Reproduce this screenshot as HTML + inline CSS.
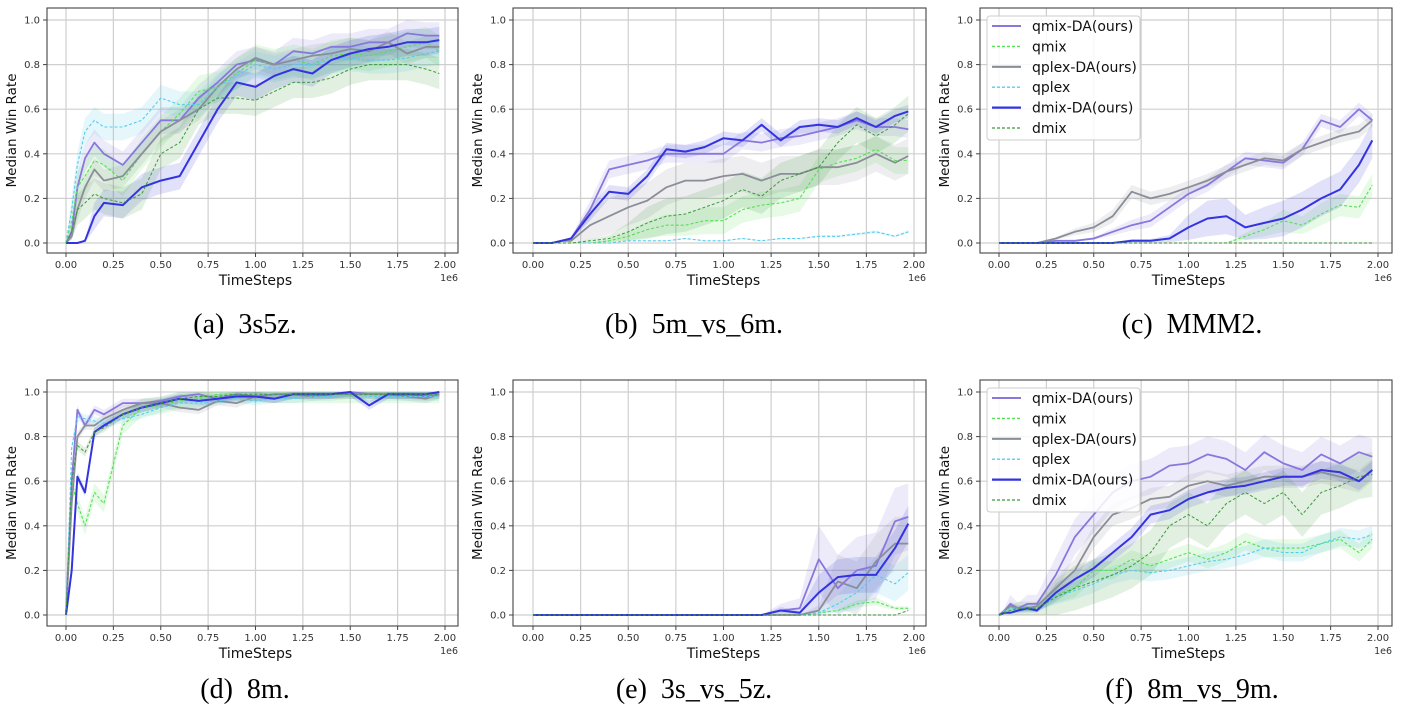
<!DOCTYPE html>
<html><head><meta charset="utf-8"><style>
html,body{margin:0;padding:0;background:#fff;}
svg text{font-family:"DejaVu Sans","Liberation Sans",sans-serif;}
</style></head><body>
<svg id="fig" width="1402" height="709" xmlns="http://www.w3.org/2000/svg"></svg>
<script>
const xSteps = [0,0.03,0.06,0.1,0.15,0.2,0.3,0.4,0.5,0.6,0.7,0.8,0.9,1.0,1.1,1.2,1.3,1.4,1.5,1.6,1.7,1.8,1.9,1.97];
const seriesNames = ["qmix-DA(ours)","qmix","qplex-DA(ours)","qplex","dmix-DA(ours)","dmix"];
const xTickLabels = ["0.00","0.25","0.50","0.75","1.00","1.25","1.50","1.75","2.00"];
const yTickLabels = ["0.0","0.2","0.4","0.6","0.8","1.0"];
const captions = ["(a)\u00a0\u00a03s5z.","(b)\u00a0\u00a05m_vs_6m.","(c)\u00a0\u00a0MMM2.","(d)\u00a0\u00a08m.","(e)\u00a0\u00a03s_vs_5z.","(f)\u00a0\u00a08m_vs_9m."];
const z16 = [0,0,0,0,0,0,0,0,0,0,0,0,0,0,0,0];
const zeros = [0,0,0,0,0,0,0,0,0,0,0,0,0,0,0,0,0,0,0,0,0,0,0,0];
// (a) 3s5z
const a_qmixDA = [0,0.05,0.25,0.38,0.45,0.40,0.35,0.45,0.55,0.55,0.65,0.72,0.80,0.82,0.80,0.86,0.85,0.88,0.88,0.90,0.90,0.94,0.93,0.93];
const a_qmix = [0,0.1,0.25,0.30,0.37,0.35,0.28,0.40,0.50,0.58,0.68,0.70,0.76,0.82,0.80,0.82,0.80,0.84,0.85,0.84,0.86,0.88,0.90,0.86];
const a_qplexDA = [0,0.03,0.15,0.25,0.33,0.28,0.30,0.40,0.50,0.55,0.60,0.70,0.78,0.83,0.80,0.82,0.84,0.85,0.87,0.86,0.90,0.85,0.88,0.88];
const a_qplex = [0,0.15,0.35,0.50,0.55,0.52,0.52,0.55,0.65,0.62,0.62,0.70,0.75,0.80,0.78,0.80,0.80,0.82,0.83,0.82,0.82,0.83,0.85,0.86];
const a_dmixDA = [0,0,0,0.01,0.12,0.18,0.17,0.25,0.28,0.30,0.45,0.60,0.72,0.70,0.75,0.78,0.76,0.82,0.85,0.87,0.88,0.90,0.90,0.91];
const a_dmix = [0,0.05,0.15,0.18,0.22,0.20,0.18,0.22,0.40,0.45,0.60,0.65,0.65,0.64,0.68,0.72,0.72,0.74,0.78,0.80,0.80,0.80,0.78,0.76];
// (b) 5m_vs_6m
const b_qmixDA = [0,0,0,0,0.01,0.02,0.15,0.33,0.35,0.37,0.40,0.40,0.40,0.40,0.46,0.45,0.47,0.48,0.50,0.52,0.55,0.52,0.52,0.51];
const b_qmix = [0,0,0,0,0,0,0,0.01,0.03,0.06,0.08,0.08,0.10,0.10,0.15,0.17,0.18,0.20,0.33,0.36,0.38,0.42,0.37,0.37];
const b_qplexDA = [0,0,0,0,0.01,0.01,0.08,0.12,0.16,0.19,0.25,0.28,0.28,0.30,0.31,0.28,0.31,0.31,0.34,0.34,0.36,0.40,0.36,0.39];
const b_qplex = [0,0,0,0,0,0,0,0,0.01,0.01,0.01,0.02,0.01,0.01,0.02,0.01,0.02,0.02,0.03,0.03,0.04,0.05,0.03,0.05];
const b_dmixDA = [0,0,0,0,0.01,0.02,0.13,0.23,0.22,0.30,0.42,0.41,0.43,0.47,0.46,0.53,0.46,0.52,0.53,0.52,0.56,0.52,0.57,0.59];
const b_dmix = [0,0,0,0,0,0,0.01,0.02,0.05,0.09,0.12,0.13,0.16,0.19,0.24,0.21,0.28,0.31,0.34,0.45,0.53,0.48,0.53,0.58];
// (c) MMM2
const c_qmixDA = [0,0,0,0,0,0,0.01,0.01,0.02,0.05,0.08,0.10,0.16,0.22,0.26,0.32,0.38,0.37,0.36,0.42,0.55,0.52,0.60,0.55];
const c_qmix = z16.concat([0.03,0.06,0.10,0.08,0.13,0.17,0.16,0.26]);
const c_qplexDA = [0,0,0,0,0,0,0.02,0.05,0.07,0.12,0.23,0.20,0.22,0.25,0.28,0.32,0.35,0.38,0.37,0.42,0.45,0.48,0.50,0.55];
const c_qplex = zeros;
const c_dmixDA = [0,0,0,0,0,0,0,0,0,0,0.01,0.01,0.02,0.07,0.11,0.12,0.07,0.09,0.11,0.15,0.20,0.24,0.35,0.46];
const c_dmix = zeros;
// (d) 8m
const d_qmixDA = [0,0.6,0.92,0.85,0.92,0.90,0.95,0.95,0.96,0.98,0.99,0.97,0.99,0.98,0.99,0.99,0.99,0.99,1.0,0.99,0.99,0.99,0.98,0.99];
const d_qmix = [0,0.6,0.5,0.40,0.55,0.50,0.85,0.93,0.94,0.96,0.97,0.99,0.99,0.99,0.99,0.99,0.99,0.99,0.99,0.99,0.99,0.99,0.99,0.99];
const d_qplexDA = [0,0.5,0.80,0.85,0.85,0.88,0.92,0.95,0.95,0.93,0.92,0.96,0.95,0.98,0.97,0.99,0.98,0.99,0.99,0.99,0.99,0.98,0.97,0.99];
const d_qplex = [0,0.75,0.89,0.88,0.87,0.86,0.88,0.90,0.93,0.95,0.95,0.96,0.97,0.96,0.97,0.97,0.98,0.98,0.99,0.98,0.98,0.98,0.98,0.98];
const d_dmixDA = [0,0.2,0.62,0.55,0.82,0.85,0.90,0.93,0.95,0.97,0.96,0.97,0.98,0.98,0.97,0.99,0.99,0.99,1.0,0.94,0.99,0.99,0.99,1.0];
const d_dmix = [0,0.6,0.76,0.73,0.82,0.84,0.90,0.93,0.95,0.97,0.98,0.98,0.99,0.99,0.99,0.99,0.99,0.99,0.99,0.99,0.99,0.99,0.99,0.99];
// (e) 3s_vs_5z
const e_qmixDA = z16.concat([0.02,0.03,0.25,0.12,0.20,0.22,0.42,0.44]);
const e_qmix = z16.concat([0,0,0.01,0.02,0.05,0.06,0.03,0.03]);
const e_qplexDA = z16.concat([0,0,0.02,0.15,0.12,0.24,0.32,0.32]);
const e_qplex = z16.concat([0,0,0.01,0.05,0.10,0.18,0.14,0.19]);
const e_dmixDA = z16.concat([0.02,0.01,0.10,0.17,0.18,0.18,0.30,0.41]);
const e_dmix = z16.concat([0,0,0,0,0,0,0,0.02]);
// (f) 8m_vs_9m
const f_qmixDA = [0,0.02,0.05,0.03,0.05,0.05,0.18,0.35,0.45,0.55,0.60,0.62,0.67,0.68,0.72,0.70,0.65,0.73,0.68,0.65,0.72,0.68,0.73,0.71];
const f_qmix = [0,0.02,0.03,0.03,0.03,0.03,0.09,0.12,0.20,0.20,0.25,0.22,0.25,0.28,0.25,0.28,0.33,0.30,0.30,0.30,0.32,0.34,0.28,0.34];
const f_qplexDA = [0,0.02,0.04,0.03,0.03,0.04,0.12,0.20,0.35,0.45,0.48,0.52,0.53,0.58,0.60,0.58,0.60,0.62,0.62,0.62,0.64,0.62,0.60,0.65];
const f_qplex = [0,0.02,0.03,0.03,0.03,0.03,0.08,0.11,0.14,0.18,0.20,0.19,0.20,0.22,0.24,0.25,0.27,0.30,0.28,0.28,0.32,0.35,0.34,0.36];
const f_dmixDA = [0,0.01,0.01,0.02,0.03,0.02,0.10,0.16,0.21,0.28,0.35,0.45,0.47,0.52,0.55,0.57,0.58,0.60,0.62,0.62,0.65,0.64,0.60,0.65];
const f_dmix = [0,0.01,0.02,0.03,0.03,0.03,0.08,0.12,0.15,0.18,0.22,0.28,0.40,0.45,0.40,0.50,0.55,0.50,0.55,0.45,0.55,0.58,0.62,0.63];
// band half-widths per series
const a_spread = [0.06,0.07,0.05,0.06,0.06,0.07];
const b_spread = [0.04,0.06,0.08,0.015,0.03,0.08];
const c_spread = [0.03,0.05,0.03,0.0,0.08,0.0];
const d_spread = [0.02,0.04,0.02,0.02,0.02,0.02];
const e_spread = [0.15,0.03,0.12,0.08,0.08,0.01];
const f_spread = [0.08,0.04,0.05,0.04,0.04,0.1];

const plotData = [
 [a_qmixDA,a_qmix,a_qplexDA,a_qplex,a_dmixDA,a_dmix],
 [b_qmixDA,b_qmix,b_qplexDA,b_qplex,b_dmixDA,b_dmix],
 [c_qmixDA,c_qmix,c_qplexDA,c_qplex,c_dmixDA,c_dmix],
 [d_qmixDA,d_qmix,d_qplexDA,d_qplex,d_dmixDA,d_dmix],
 [e_qmixDA,e_qmix,e_qplexDA,e_qplex,e_dmixDA,e_dmix],
 [f_qmixDA,f_qmix,f_qplexDA,f_qplex,f_dmixDA,f_dmix]];
const spreads = [a_spread,b_spread,c_spread,d_spread,e_spread,f_spread];

const colors = ["#8877dd","#55e055","#8a8e98","#55ccee","#3333e0","#3a9a3a"];
const dashed = [false,true,false,true,false,true];
const widths = [1.8,1.1,1.8,1.1,2,1];
const cols = [{l:47,r:458,x0:66,x2:445},{l:513,r:926,x0:533,x2:914},{l:980,r:1392,x0:999,x2:1378}];
const rows = [{t:8,b:253,y1:20,y0:243,cap:333},{t:380,b:626,y1:392,y0:615,cap:698}];
const capX = [245,694,1192];
const NS = "http://www.w3.org/2000/svg";
const svg = document.getElementById('fig');
function mk(tag, attrs, parent){const e=document.createElementNS(NS,tag);for(const k in attrs)e.setAttribute(k,attrs[k]);(parent||svg).appendChild(e);return e;}

plotData.forEach((series, pi) => {
  const c = cols[pi%3], r = rows[Math.floor(pi/3)];
  const sx = v => c.x0 + (c.x2-c.x0)*v/2;
  const sy = v => r.y0 - (r.y0-r.y1)*v;
  const g = mk('g',{});
  
  
  xTickLabels.forEach((lab,i)=>{
    const x = sx(i*0.25);
    const gl = mk('line',{x1:x,x2:x,y1:r.t,y2:r.b,stroke:'#cfcfcf','stroke-width':1.2},g);
     
    mk('line',{x1:x,x2:x,y1:r.b,y2:r.b+4,stroke:'#444','stroke-width':1},g);
    const t = mk('text',{x:x,y:r.b+15,'font-size':10,'text-anchor':'middle',fill:'#333'},g);
    t.textContent = lab;
     
  });
  yTickLabels.forEach((lab,i)=>{
    const y = sy(i*0.2);
    const gl = mk('line',{x1:c.l,x2:c.r,y1:y,y2:y,stroke:'#cfcfcf','stroke-width':1.2},g);
     
    mk('line',{x1:c.l-4,x2:c.l,y1:y,y2:y,stroke:'#444','stroke-width':1},g);
    const t = mk('text',{x:c.l-7,y:y+3.5,'font-size':10,'text-anchor':'end',fill:'#333'},g);
    t.textContent = lab;
     
  });
  series.forEach((ys, si) => {
    const sp = spreads[pi][si];
    if (sp <= 0) return;
    const up = ys.map((v,i)=>[sx(xSteps[i]), sy(Math.min(1.0, v + sp*Math.min(1,v/0.1)))]);
    const lo = ys.map((v,i)=>[sx(xSteps[i]), sy(Math.max(0, v - sp*Math.min(1,v/0.1)))]).reverse();
    const pts = up.concat(lo).map(p=>p[0].toFixed(1)+','+p[1].toFixed(1)).join(' ');
    const b = mk('polygon',{points:pts,fill:colors[si],'fill-opacity':0.15,stroke:'none'},g);
    
    
  });
  series.forEach((ys, si) => {
    const pts = ys.map((v,i)=>sx(xSteps[i]).toFixed(1)+','+sy(v).toFixed(1)).join(' ');
    const a = {points:pts,fill:'none',stroke:colors[si],'stroke-width':widths[si],'stroke-linejoin':'round'};
    if (dashed[si]) a['stroke-dasharray']='3,2';
    const l = mk('polyline',a,g);
    
    
  });
  const box = mk('rect',{x:c.l,y:r.t,width:c.r-c.l,height:r.b-r.t,fill:'none',stroke:'#444','stroke-width':1.1},g);
   
  const xt = mk('text',{x:(c.x0+c.x2)/2,y:r.b+32,'font-size':14,'text-anchor':'middle',fill:'#111'},g);
  xt.textContent='TimeSteps';
   
  const e6 = mk('text',{x:c.r,y:r.b+28,'font-size':9.5,'text-anchor':'end',fill:'#333'},g);
  e6.textContent='1e6';
   
  const ymid=(r.t+r.b)/2, yx=c.l-31;
  const yt = mk('text',{x:yx,y:ymid,'font-size':13.5,'text-anchor':'middle',fill:'#111',transform:'rotate(-90 '+yx+' '+ymid+')'},g);
  yt.textContent='Median Win Rate';
   
  const cp = mk('text',{x:capX[pi%3],y:r.cap,'font-size':28,'text-anchor':'middle',fill:'#000'},g);
  cp.setAttribute('style','font-family:"Liberation Serif",serif');
  cp.textContent = captions[pi];
   
  if (pi===2 || pi===5) {
    const off = r.t + 8;
    const lg = mk('g',{},g);
     
    mk('rect',{x:987,y:off,width:153,height:124,rx:3,fill:'#fff','fill-opacity':0.85,stroke:'#ccc','stroke-width':1},lg);
    seriesNames.forEach((nm,si)=>{
      const y = off + 10 + si*20.4;
      const la = {x1:992,x2:1021,y1:y,y2:y,stroke:colors[si],'stroke-width':widths[si]+0.3};
      if (dashed[si]) la['stroke-dasharray']='3,2';
      const ln = mk('line',la,lg);
       
      const t = mk('text',{x:1032,y:y+5,'font-size':14,fill:'#111'},lg);
      t.textContent = nm;
       
    });
  }
});
</script>
</body></html>
